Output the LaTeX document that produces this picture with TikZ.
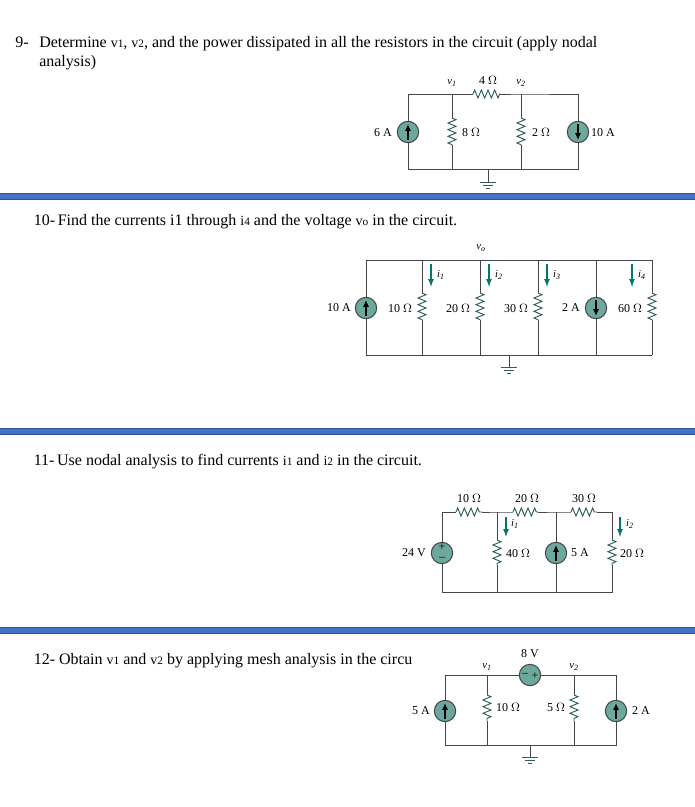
\documentclass[tikz,border=0pt]{standalone}
\usepackage{fontspec}
\setmainfont{Liberation Serif}
\usetikzlibrary{arrows.meta,calc,decorations.pathmorphing}
\definecolor{srcfill}{RGB}{108,168,158}
\definecolor{wirecol}{RGB}{70,70,70}
\definecolor{rescol}{RGB}{45,95,85}
\definecolor{barcol}{RGB}{68,114,196}
\definecolor{baredge}{RGB}{47,85,151}
\definecolor{arrcol}{RGB}{0,120,110}
\tikzset{
	wire/.style={draw=wirecol, line width=0.7pt},
	res/.style={draw=rescol, line width=0.7pt, decorate, decoration={zigzag, segment length=5pt, amplitude=3pt}},
	src/.style={circle, draw=wirecol, fill=srcfill, line width=0.8pt, minimum size=16pt, inner sep=0pt},
	srcarrow/.style={draw=black, line width=0.85pt, -{Latex[length=5pt,width=4.5pt]}, shorten >=2.5pt, shorten <=2.5pt},
	iarrow/.style={draw=arrcol, line width=0.8pt, -{Latex[length=6pt,width=4.5pt]}},
	lbl/.style={font=\fontsize{9}{10}\selectfont, inner sep=0pt},
	vlbl/.style={font=\fontsize{8}{9}\selectfont\itshape, inner sep=0pt},
	signlbl/.style={font=\fontsize{9}{9}\selectfont, inner sep=0pt},
	question/.style={anchor=base west, inner sep=0pt, font=\fontsize{12}{14}\selectfont},
	bar/.style={fill=barcol, draw=baredge, line width=0.6pt},
	gnd/.style={draw=rescol, line width=0.7pt}
}
\newcommand{\smv}[2]{{\fontsize{10.5}{10}\selectfont #1\fontsize{8.5}{8}\selectfont #2}}
\newcommand{\groundat}[1]{
	\draw[gnd] ($(#1)+(-8,0)$) -- ($(#1)+(8,0)$);
	\draw[gnd] ($(#1)+(-5,3)$) -- ($(#1)+(5,3)$);
	\draw[gnd] ($(#1)+(-2,6)$) -- ($(#1)+(2,6)$);
}
\begin{document}
\begin{tikzpicture}[x=0.75pt, y=-0.75pt]
	\useasboundingbox (0,0) rectangle (695,807);

	% question texts
	\node[question] (q9) at (15,47) {9-};
	\node[question] (q9a) at (39,47) {Determine \smv{v}{1}, \smv{v}{2}, and the power dissipated in all the resistors in the circuit (apply nodal};
	\node[question] (q9b) at (39,66) {analysis)};
	\node[question] (q10) at (33.5,225) {10-\,Find the currents i1 through \smv{i}{4} and the voltage \smv{v}{o} in the circuit.};
	\node[question] (q11) at (33.5,465) {11-\,Use nodal analysis to find currents \smv{i}{1} and \smv{i}{2} in the circuit.};
	\node[question] (q12) at (33.5,664) {12- Obtain \smv{v}{1} and \smv{v}{2} by applying mesh analysis in the circu};

	% separators
	\foreach \y in {193.5,428.5,627.5} \filldraw[bar] (-2,\y) rectangle (697,\y+6);

	% circuit 9
	\coordinate (a1) at (408,94);
	\coordinate (a2) at (452,94);
	\coordinate (a3) at (521,94);
	\coordinate (a4) at (578,94);
	\coordinate (b1) at (408,169);
	\coordinate (b2) at (452,169);
	\coordinate (b3) at (521,169);
	\coordinate (b4) at (578,169);
	\coordinate (bg) at (488,169);
	\coordinate (g1) at (488,182);
	\coordinate (r4a) at (473,94);
	\coordinate (r4b) at (500,94);
	\coordinate (r8a) at (452,118);
	\coordinate (r8b) at (452,145);
	\coordinate (r2a) at (521,118);
	\coordinate (r2b) at (521,145);
	\draw[wire] (r4b) -- (a3) -- (a4) -- (b4) -- (b1) -- (a1) -- (r4a);
	\draw[wire] (a2) -- (r8a) (r8b) -- (b2) (a3) -- (r2a) (r2b) -- (b3) (bg) -- (g1);
	\draw[res] (r4a) -- (r4b);
	\draw[res] (r8a) -- (r8b);
	\draw[res] (r2a) -- (r2b);
	\groundat{g1}
	\node[src] (s6) at (408,132) {};
	\node[src] (s10) at (578,132) {};
	\draw[srcarrow] (s6.south) -- (s6.north);
	\draw[srcarrow] (s10.north) -- (s10.south);
	\node[lbl] (l6) at (383,133) {6 A};
	\node[lbl] (l8) at (471,132) {8 $\Omega$};
	\node[lbl] (l2) at (541,132) {2 $\Omega$};
	\node[lbl] (l10) at (603,133) {10 A};
	\node[lbl] (l4) at (488,80) {4 $\Omega$};
	\node[vlbl] (v1) at (452,83) {v\textsubscript{1}};
	\node[vlbl] (v2) at (521,83) {v\textsubscript{2}};

	% circuit 10
	\coordinate (c1) at (366,260);
	\coordinate (c2) at (422,260);
	\coordinate (c3) at (480,260);
	\coordinate (c4) at (538,260);
	\coordinate (c5) at (596,260);
	\coordinate (c6) at (652,260);
	\coordinate (d1) at (366,355);
	\coordinate (d2) at (422,355);
	\coordinate (d3) at (480,355);
	\coordinate (d4) at (538,355);
	\coordinate (d5) at (596,355);
	\coordinate (d6) at (652,355);
	\coordinate (dg) at (509,355);
	\coordinate (g2) at (509,367);
	\draw[wire] (c1) -- (c6) (d1) -- (d6) (c1) -- (d1) (c5) -- (d5) (dg) -- (g2);
	\foreach \c/\d/\x in {c2/d2/422,c3/d3/480,c4/d4/538,c6/d6/652} {
		\coordinate (ra) at (\x,293);
		\coordinate (rb) at (\x,320);
		\draw[wire] (\c) -- (ra) (rb) -- (\d);
		\draw[res] (ra) -- (rb);
	}
	\groundat{g2}
	\node[src] (s10a) at (366,308) {};
	\node[src] (s2a) at (596,308) {};
	\draw[srcarrow] (s10a.south) -- (s10a.north);
	\draw[srcarrow] (s2a.north) -- (s2a.south);
	\node[lbl] (l10a) at (339,308) {10 A};
	\node[lbl] (l10r) at (400,308) {10 $\Omega$};
	\node[lbl] (l20r) at (458,308) {20 $\Omega$};
	\node[lbl] (l30r) at (516,308) {30 $\Omega$};
	\node[lbl] (l2a) at (571,308) {2 A};
	\node[lbl] (l60r) at (630,308) {60 $\Omega$};
	\node[vlbl] (vo) at (481,248) {v\textsubscript{o}};
	\foreach \x/\n in {431/1,489/2,547/3,632/4} {
		\coordinate (ia) at (\x,264);
		\coordinate (ib) at (\x,287);
		\draw[iarrow] (ia) -- (ib);
		\node[vlbl] (i\n) at (\x+10,275) {i\textsubscript{\n}};
	}

	% circuit 11
	\coordinate (e1) at (442,512);
	\coordinate (e2) at (497,512);
	\coordinate (e3) at (556,512);
	\coordinate (e4) at (612,512);
	\coordinate (f1) at (442,592);
	\coordinate (f2) at (497,592);
	\coordinate (f3) at (556,592);
	\coordinate (f4) at (612,592);
	\coordinate (r10a) at (456,512);
	\coordinate (r10b) at (482,512);
	\coordinate (r20a) at (513,512);
	\coordinate (r20b) at (538,512);
	\coordinate (r30a) at (571,512);
	\coordinate (r30b) at (597,512);
	\coordinate (r40a) at (497,540);
	\coordinate (r40b) at (497,565);
	\coordinate (r21a) at (612,540);
	\coordinate (r21b) at (612,565);
	\draw[wire] (r21a) -- (e4) -- (r30b) (r30a) -- (e3) -- (r20b) (r20a) -- (e2) -- (r10b) (r10a) -- (e1) -- (f1) -- (f4) -- (r21b);
	\draw[wire] (e2) -- (r40a) (r40b) -- (f2) (e3) -- (f3);
	\foreach \p/\q in {r10a/r10b,r20a/r20b,r30a/r30b,r40a/r40b,r21a/r21b}
		\draw[res] (\p) -- (\q);
	\node[src] (s24) at (442,553) {};
	\node[src] (s5) at (556,553) {};
	\draw[srcarrow] (s5.south) -- (s5.north);
	\node[signlbl] (sp) at (442,547.5) {+};
	\node[signlbl] (sm) at (442,558.5) {--};
	\coordinate (ja) at (506,517);
	\coordinate (jb) at (506,537);
	\coordinate (ka) at (620,517);
	\coordinate (kb) at (620,537);
	\draw[iarrow] (ja) -- (jb);
	\draw[iarrow] (ka) -- (kb);
	\node[vlbl] (j1) at (515,524) {i\textsubscript{1}};
	\node[vlbl] (j2) at (630,524) {i\textsubscript{2}};
	\node[lbl] (l24) at (414,553) {24 V};
	\node[lbl] (l40) at (518,553) {40 $\Omega$};
	\node[lbl] (l5) at (580,553) {5 A};
	\node[lbl] (l20b) at (632,553) {20 $\Omega$};
	\node[lbl] (l10c) at (469,498) {10 $\Omega$};
	\node[lbl] (l20c) at (527,498) {20 $\Omega$};
	\node[lbl] (l30c) at (584,498) {30 $\Omega$};

	% circuit 12
	\coordinate (h1) at (445,675);
	\coordinate (h2) at (487,675);
	\coordinate (h3) at (574,675);
	\coordinate (h4) at (616,675);
	\coordinate (k1) at (445,745);
	\coordinate (k2) at (487,745);
	\coordinate (k3) at (574,745);
	\coordinate (k4) at (616,745);
	\coordinate (kg) at (530,745);
	\coordinate (g4) at (530,757);
	\coordinate (r5a) at (574,695);
	\coordinate (r5b) at (574,721);
	\coordinate (r1a) at (487,695);
	\coordinate (r1b) at (487,721);
	\draw[wire] (h1) -- (h4) -- (k4) -- (k1) -- (h1) (kg) -- (g4);
	\draw[wire] (h2) -- (r1a) (r1b) -- (k2) (h3) -- (r5a) (r5b) -- (k3);
	\draw[res] (r1a) -- (r1b);
	\draw[res] (r5a) -- (r5b);
	\groundat{g4}
	\node[src] (s5a) at (445,711) {};
	\node[src] (s2b) at (616,711) {};
	\node[src] (s8) at (530,675) {};
	\draw[srcarrow] (s5a.south) -- (s5a.north);
	\draw[srcarrow] (s2b.south) -- (s2b.north);
	\node[signlbl] (sm8) at (525,675) {--};
	\node[signlbl] (sp8) at (535,676.5) {+};
	\node[lbl] (l5a) at (421,711) {5 A};
	\node[lbl] (l10d) at (508,707) {10 $\Omega$};
	\node[lbl] (l5r) at (556,707) {5 $\Omega$};
	\node[lbl] (l2b) at (641,711) {2 A};
	\node[lbl] (l8v) at (530,654) {8 V};
	\node[vlbl] (w1) at (487,667) {v\textsubscript{1}};
	\node[vlbl] (w2) at (574,667) {v\textsubscript{2}};
\end{tikzpicture}
\end{document}
